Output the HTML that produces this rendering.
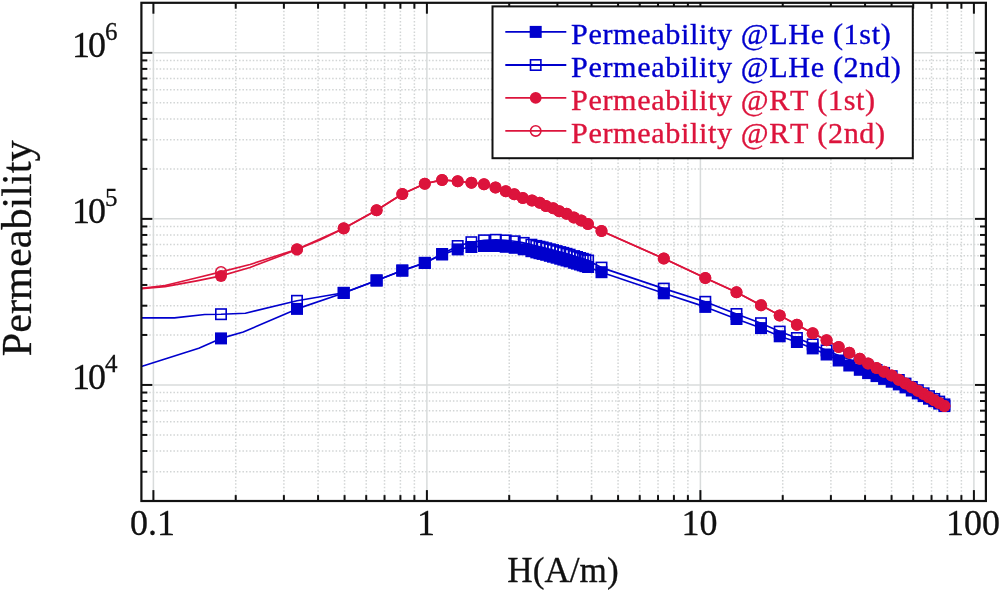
<!DOCTYPE html>
<html lang="en"><head><meta charset="utf-8"><title>Permeability vs H</title>
<style>
html,body{margin:0;padding:0;background:#fff;}
body{width:1000px;height:592px;overflow:hidden;font-family:'Liberation Serif', 'Times New Roman', Times, serif;}
svg{display:block;}
</style></head><body>
<svg width="1000" height="592" viewBox="0 0 1000 592">
<rect x="0" y="0" width="1000" height="592" fill="#ffffff"/>
<g id="grid" fill="none">
<g stroke="#d2d5d5" stroke-width="1.5" stroke-dasharray="1.5 1.95">
<line x1="235.73" y1="3.80" x2="235.73" y2="500.00"/>
<line x1="283.89" y1="3.80" x2="283.89" y2="500.00"/>
<line x1="318.06" y1="3.80" x2="318.06" y2="500.00"/>
<line x1="344.57" y1="3.80" x2="344.57" y2="500.00"/>
<line x1="366.22" y1="3.80" x2="366.22" y2="500.00"/>
<line x1="384.53" y1="3.80" x2="384.53" y2="500.00"/>
<line x1="400.40" y1="3.80" x2="400.40" y2="500.00"/>
<line x1="414.39" y1="3.80" x2="414.39" y2="500.00"/>
<line x1="509.23" y1="3.80" x2="509.23" y2="500.00"/>
<line x1="557.39" y1="3.80" x2="557.39" y2="500.00"/>
<line x1="591.56" y1="3.80" x2="591.56" y2="500.00"/>
<line x1="618.07" y1="3.80" x2="618.07" y2="500.00"/>
<line x1="639.72" y1="3.80" x2="639.72" y2="500.00"/>
<line x1="658.03" y1="3.80" x2="658.03" y2="500.00"/>
<line x1="673.90" y1="3.80" x2="673.90" y2="500.00"/>
<line x1="687.89" y1="3.80" x2="687.89" y2="500.00"/>
<line x1="782.73" y1="3.80" x2="782.73" y2="500.00"/>
<line x1="830.89" y1="3.80" x2="830.89" y2="500.00"/>
<line x1="865.06" y1="3.80" x2="865.06" y2="500.00"/>
<line x1="891.57" y1="3.80" x2="891.57" y2="500.00"/>
<line x1="913.22" y1="3.80" x2="913.22" y2="500.00"/>
<line x1="931.53" y1="3.80" x2="931.53" y2="500.00"/>
<line x1="947.40" y1="3.80" x2="947.40" y2="500.00"/>
<line x1="961.39" y1="3.80" x2="961.39" y2="500.00"/>
<line x1="142.40" y1="471.77" x2="984.90" y2="471.77"/>
<line x1="142.40" y1="451.03" x2="984.90" y2="451.03"/>
<line x1="142.40" y1="434.93" x2="984.90" y2="434.93"/>
<line x1="142.40" y1="421.78" x2="984.90" y2="421.78"/>
<line x1="142.40" y1="410.66" x2="984.90" y2="410.66"/>
<line x1="142.40" y1="401.03" x2="984.90" y2="401.03"/>
<line x1="142.40" y1="392.54" x2="984.90" y2="392.54"/>
<line x1="142.40" y1="334.95" x2="984.90" y2="334.95"/>
<line x1="142.40" y1="305.70" x2="984.90" y2="305.70"/>
<line x1="142.40" y1="284.96" x2="984.90" y2="284.96"/>
<line x1="142.40" y1="268.86" x2="984.90" y2="268.86"/>
<line x1="142.40" y1="255.71" x2="984.90" y2="255.71"/>
<line x1="142.40" y1="244.59" x2="984.90" y2="244.59"/>
<line x1="142.40" y1="234.96" x2="984.90" y2="234.96"/>
<line x1="142.40" y1="226.47" x2="984.90" y2="226.47"/>
<line x1="142.40" y1="168.88" x2="984.90" y2="168.88"/>
<line x1="142.40" y1="139.63" x2="984.90" y2="139.63"/>
<line x1="142.40" y1="118.89" x2="984.90" y2="118.89"/>
<line x1="142.40" y1="102.79" x2="984.90" y2="102.79"/>
<line x1="142.40" y1="89.64" x2="984.90" y2="89.64"/>
<line x1="142.40" y1="78.52" x2="984.90" y2="78.52"/>
<line x1="142.40" y1="68.89" x2="984.90" y2="68.89"/>
<line x1="142.40" y1="60.40" x2="984.90" y2="60.40"/>
</g>
<g stroke="#d8dbdb" stroke-width="1.5">
<line x1="153.40" y1="3.80" x2="153.40" y2="500.00"/>
<line x1="426.90" y1="3.80" x2="426.90" y2="500.00"/>
<line x1="700.40" y1="3.80" x2="700.40" y2="500.00"/>
<line x1="973.90" y1="3.80" x2="973.90" y2="500.00"/>
<line x1="142.40" y1="384.94" x2="984.90" y2="384.94"/>
<line x1="142.40" y1="218.87" x2="984.90" y2="218.87"/>
<line x1="142.40" y1="52.80" x2="984.90" y2="52.80"/>
</g></g>
<clipPath id="plotclip"><rect x="141.4" y="2.8" width="844.5" height="498.2"/></clipPath>
<g clip-path="url(#plotclip)">
<g stroke="#0000cd" stroke-width="1.65" fill="none" stroke-linejoin="round">
<path d="M141.4 366.5 L198.8 348.3 L221.0 338.4 L243.3 332.0 L297.0 308.9 L343.7 293.0 L376.6 280.5 L402.3 270.6 L424.8 263.0 L442.1 254.5 L457.7 249.4 L471.4 247.0 L484.0 246.0 L496.2 246.0 L506.0 246.8 L514.5 247.8 L522.5 249.0 L545.0 254.5 L566.0 260.3 L588.1 267.0 L601.4 272.2 L663.8 293.3 L705.3 306.9 L736.5 319.0 L761.0 328.1 L779.7 336.3 L796.9 342.0 L812.7 348.4 L826.7 354.5 L838.7 360.5 L849.4 365.5 L862.8 371.1 L900.0 384.8 L944.4 406.1"/>
</g>
<g fill="#0000cd" stroke="none">
<rect x="215.0" y="332.4" width="12.0" height="12.0"/>
<rect x="291.0" y="302.9" width="12.0" height="12.0"/>
<rect x="337.7" y="287.0" width="12.0" height="12.0"/>
<rect x="370.6" y="274.5" width="12.0" height="12.0"/>
<rect x="396.3" y="264.6" width="12.0" height="12.0"/>
<rect x="418.8" y="257.0" width="12.0" height="12.0"/>
<rect x="436.1" y="248.5" width="12.0" height="12.0"/>
<rect x="451.7" y="243.4" width="12.0" height="12.0"/>
<rect x="465.4" y="241.0" width="12.0" height="12.0"/>
<rect x="478.0" y="240.0" width="12.0" height="12.0"/>
<rect x="489.8" y="240.0" width="12.0" height="12.0"/>
<rect x="499.7" y="240.8" width="12.0" height="12.0"/>
<rect x="508.7" y="241.8" width="12.0" height="12.0"/>
<rect x="517.7" y="243.3" width="12.0" height="12.0"/>
<rect x="525.4" y="245.2" width="12.0" height="12.0"/>
<rect x="530.3" y="246.4" width="12.0" height="12.0"/>
<rect x="533.5" y="247.2" width="12.0" height="12.0"/>
<rect x="536.6" y="247.9" width="12.0" height="12.0"/>
<rect x="540.2" y="248.8" width="12.0" height="12.0"/>
<rect x="543.8" y="249.8" width="12.0" height="12.0"/>
<rect x="547.0" y="250.7" width="12.0" height="12.0"/>
<rect x="550.6" y="251.7" width="12.0" height="12.0"/>
<rect x="554.2" y="252.7" width="12.0" height="12.0"/>
<rect x="557.3" y="253.6" width="12.0" height="12.0"/>
<rect x="560.5" y="254.5" width="12.0" height="12.0"/>
<rect x="563.6" y="255.4" width="12.0" height="12.0"/>
<rect x="568.1" y="256.8" width="12.0" height="12.0"/>
<rect x="571.0" y="257.6" width="12.0" height="12.0"/>
<rect x="574.0" y="258.5" width="12.0" height="12.0"/>
<rect x="576.8" y="259.4" width="12.0" height="12.0"/>
<rect x="579.4" y="260.2" width="12.0" height="12.0"/>
<rect x="582.1" y="261.0" width="12.0" height="12.0"/>
<rect x="595.5" y="266.2" width="12.0" height="12.0"/>
<rect x="657.8" y="287.3" width="12.0" height="12.0"/>
<rect x="699.3" y="300.9" width="12.0" height="12.0"/>
<rect x="730.5" y="313.0" width="12.0" height="12.0"/>
<rect x="755.0" y="322.1" width="12.0" height="12.0"/>
<rect x="773.7" y="330.3" width="12.0" height="12.0"/>
<rect x="790.9" y="336.0" width="12.0" height="12.0"/>
<rect x="806.7" y="342.4" width="12.0" height="12.0"/>
<rect x="820.6" y="348.5" width="12.0" height="12.0"/>
<rect x="832.7" y="354.5" width="12.0" height="12.0"/>
<rect x="843.3" y="359.5" width="12.0" height="12.0"/>
<rect x="853.8" y="363.8" width="12.0" height="12.0"/>
<rect x="862.1" y="367.1" width="12.0" height="12.0"/>
<rect x="870.5" y="370.1" width="12.0" height="12.0"/>
<rect x="878.1" y="372.9" width="12.0" height="12.0"/>
<rect x="885.7" y="375.7" width="12.0" height="12.0"/>
<rect x="892.8" y="378.4" width="12.0" height="12.0"/>
<rect x="899.5" y="381.4" width="12.0" height="12.0"/>
<rect x="905.8" y="384.5" width="12.0" height="12.0"/>
<rect x="911.8" y="387.4" width="12.0" height="12.0"/>
<rect x="917.6" y="390.1" width="12.0" height="12.0"/>
<rect x="923.0" y="392.7" width="12.0" height="12.0"/>
<rect x="928.2" y="395.2" width="12.0" height="12.0"/>
<rect x="933.2" y="397.6" width="12.0" height="12.0"/>
<rect x="938.4" y="400.1" width="12.0" height="12.0"/>
</g>
<g stroke="#0000cd" stroke-width="1.65" fill="none" stroke-linejoin="round">
<path d="M141.4 317.9 L174.4 317.9 L204.8 314.5 L221.0 314.2 L245.4 313.2 L297.0 300.8 L343.7 292.8 L376.6 280.4 L402.3 270.5 L424.8 262.8 L442.1 254.0 L457.7 246.0 L471.4 242.2 L484.0 240.3 L496.2 239.8 L506.0 240.4 L514.5 241.3 L522.5 242.6 L545.0 248.0 L566.0 253.6 L588.1 260.5 L601.4 267.6 L663.8 288.6 L705.3 301.8 L736.5 314.0 L761.0 323.2 L779.7 331.6 L796.9 338.0 L812.7 344.4 L826.7 350.4 L838.7 355.6 L849.4 359.6 L860.0 363.8 L888.7 374.6 L944.4 404.4"/>
</g>
<g fill="none" stroke="#0000cd" stroke-width="1.6">
<rect x="215.8" y="309.0" width="10.4" height="10.4"/>
<rect x="291.8" y="295.6" width="10.4" height="10.4"/>
<rect x="338.5" y="287.6" width="10.4" height="10.4"/>
<rect x="371.4" y="275.2" width="10.4" height="10.4"/>
<rect x="397.1" y="265.3" width="10.4" height="10.4"/>
<rect x="419.6" y="257.6" width="10.4" height="10.4"/>
<rect x="436.9" y="248.8" width="10.4" height="10.4"/>
<rect x="452.5" y="240.8" width="10.4" height="10.4"/>
<rect x="466.2" y="237.0" width="10.4" height="10.4"/>
<rect x="478.8" y="235.1" width="10.4" height="10.4"/>
<rect x="490.6" y="234.6" width="10.4" height="10.4"/>
<rect x="500.5" y="235.2" width="10.4" height="10.4"/>
<rect x="509.5" y="236.1" width="10.4" height="10.4"/>
<rect x="518.5" y="237.7" width="10.4" height="10.4"/>
<rect x="526.2" y="239.5" width="10.4" height="10.4"/>
<rect x="531.1" y="240.7" width="10.4" height="10.4"/>
<rect x="534.3" y="241.5" width="10.4" height="10.4"/>
<rect x="537.4" y="242.2" width="10.4" height="10.4"/>
<rect x="541.0" y="243.1" width="10.4" height="10.4"/>
<rect x="544.6" y="244.1" width="10.4" height="10.4"/>
<rect x="547.8" y="244.9" width="10.4" height="10.4"/>
<rect x="551.4" y="245.9" width="10.4" height="10.4"/>
<rect x="555.0" y="246.9" width="10.4" height="10.4"/>
<rect x="558.1" y="247.7" width="10.4" height="10.4"/>
<rect x="561.3" y="248.6" width="10.4" height="10.4"/>
<rect x="564.4" y="249.5" width="10.4" height="10.4"/>
<rect x="568.9" y="250.9" width="10.4" height="10.4"/>
<rect x="571.8" y="251.8" width="10.4" height="10.4"/>
<rect x="574.8" y="252.8" width="10.4" height="10.4"/>
<rect x="577.6" y="253.6" width="10.4" height="10.4"/>
<rect x="580.2" y="254.5" width="10.4" height="10.4"/>
<rect x="582.9" y="255.3" width="10.4" height="10.4"/>
<rect x="596.3" y="262.4" width="10.4" height="10.4"/>
<rect x="658.6" y="283.4" width="10.4" height="10.4"/>
<rect x="700.1" y="296.6" width="10.4" height="10.4"/>
<rect x="731.3" y="308.8" width="10.4" height="10.4"/>
<rect x="755.8" y="318.0" width="10.4" height="10.4"/>
<rect x="774.5" y="326.4" width="10.4" height="10.4"/>
<rect x="791.7" y="332.8" width="10.4" height="10.4"/>
<rect x="807.5" y="339.2" width="10.4" height="10.4"/>
<rect x="821.4" y="345.2" width="10.4" height="10.4"/>
<rect x="833.5" y="350.4" width="10.4" height="10.4"/>
<rect x="844.1" y="354.4" width="10.4" height="10.4"/>
<rect x="854.6" y="358.5" width="10.4" height="10.4"/>
<rect x="862.9" y="361.6" width="10.4" height="10.4"/>
<rect x="871.3" y="364.8" width="10.4" height="10.4"/>
<rect x="878.9" y="367.7" width="10.4" height="10.4"/>
<rect x="886.5" y="371.0" width="10.4" height="10.4"/>
<rect x="893.6" y="374.8" width="10.4" height="10.4"/>
<rect x="900.3" y="378.4" width="10.4" height="10.4"/>
<rect x="906.6" y="381.8" width="10.4" height="10.4"/>
<rect x="912.6" y="385.0" width="10.4" height="10.4"/>
<rect x="918.4" y="388.1" width="10.4" height="10.4"/>
<rect x="923.8" y="391.0" width="10.4" height="10.4"/>
<rect x="929.0" y="393.8" width="10.4" height="10.4"/>
<rect x="934.0" y="396.4" width="10.4" height="10.4"/>
<rect x="939.2" y="399.2" width="10.4" height="10.4"/>
</g>
<g stroke="#dc143c" stroke-width="1.65" fill="none" stroke-linejoin="round">
<path d="M141.4 288.6 L165.0 286.6 L198.0 280.6 L221.0 275.9 L250.0 267.5 L297.0 249.6 L320.0 240.0 L343.8 228.5 L376.6 210.3 L402.3 194.0 L424.8 183.7 L442.1 179.9 L457.7 181.3 L471.4 182.7 L484.0 184.3 L495.5 187.6 L505.8 191.3 L514.3 194.3 L522.8 198.0 L532.0 200.4 L539.8 202.8 L545.9 205.9 L553.2 208.3 L559.3 211.3 L566.6 213.8 L573.9 217.4 L581.2 220.5 L587.9 224.1 L601.6 231.0 L663.8 258.6 L705.3 277.9 L736.5 292.3 L761.0 305.2 L779.7 315.4 L796.9 324.7 L812.7 333.2 L826.5 340.2 L838.7 347.0 L849.3 352.7 L859.8 358.8 L868.1 363.5 L876.5 368.0 L884.1 371.8 L891.7 375.6 L944.4 406.1"/>
</g>
<g fill="#dc143c" stroke="none">
<circle cx="221.0" cy="275.9" r="6.0"/>
<circle cx="297.0" cy="249.6" r="6.0"/>
<circle cx="343.7" cy="228.5" r="6.0"/>
<circle cx="376.6" cy="210.3" r="6.0"/>
<circle cx="402.3" cy="194.0" r="6.0"/>
<circle cx="424.8" cy="183.7" r="6.0"/>
<circle cx="442.1" cy="179.9" r="6.0"/>
<circle cx="457.7" cy="181.3" r="6.0"/>
<circle cx="471.4" cy="182.7" r="6.0"/>
<circle cx="484.0" cy="184.3" r="6.0"/>
<circle cx="495.5" cy="187.6" r="6.0"/>
<circle cx="505.8" cy="191.3" r="6.0"/>
<circle cx="514.3" cy="194.3" r="6.0"/>
<circle cx="522.8" cy="198.0" r="6.0"/>
<circle cx="532.0" cy="200.4" r="6.0"/>
<circle cx="539.8" cy="202.8" r="6.0"/>
<circle cx="545.9" cy="205.9" r="6.0"/>
<circle cx="553.2" cy="208.3" r="6.0"/>
<circle cx="559.3" cy="211.3" r="6.0"/>
<circle cx="566.6" cy="213.8" r="6.0"/>
<circle cx="573.9" cy="217.4" r="6.0"/>
<circle cx="581.2" cy="220.5" r="6.0"/>
<circle cx="587.9" cy="224.1" r="6.0"/>
<circle cx="601.5" cy="230.9" r="6.0"/>
<circle cx="663.8" cy="258.6" r="6.0"/>
<circle cx="705.3" cy="277.9" r="6.0"/>
<circle cx="736.5" cy="292.3" r="6.0"/>
<circle cx="761.0" cy="305.2" r="6.0"/>
<circle cx="779.7" cy="315.4" r="6.0"/>
<circle cx="796.9" cy="324.7" r="6.0"/>
<circle cx="812.7" cy="333.2" r="6.0"/>
<circle cx="826.6" cy="340.3" r="6.0"/>
<circle cx="838.7" cy="347.0" r="6.0"/>
<circle cx="849.3" cy="352.7" r="6.0"/>
<circle cx="859.8" cy="358.8" r="6.0"/>
<circle cx="868.1" cy="363.5" r="6.0"/>
<circle cx="876.5" cy="368.0" r="6.0"/>
<circle cx="884.1" cy="371.8" r="6.0"/>
<circle cx="891.7" cy="375.6" r="6.0"/>
<circle cx="898.8" cy="379.7" r="6.0"/>
<circle cx="905.5" cy="383.6" r="6.0"/>
<circle cx="911.8" cy="387.2" r="6.0"/>
<circle cx="917.8" cy="390.7" r="6.0"/>
<circle cx="923.6" cy="394.0" r="6.0"/>
<circle cx="929.0" cy="397.2" r="6.0"/>
<circle cx="934.2" cy="400.2" r="6.0"/>
<circle cx="939.2" cy="403.1" r="6.0"/>
<circle cx="944.4" cy="406.1" r="6.0"/>
</g>
<g stroke="#dc143c" stroke-width="1.65" fill="none" stroke-linejoin="round">
<path d="M141.4 288.4 L165.0 285.5 L198.0 277.5 L221.0 271.9 L250.0 264.5 L297.0 249.2 L320.0 239.0 L343.8 228.3 L376.6 210.3 L402.3 194.0 L424.8 183.7 L442.1 179.9 L457.7 181.3 L471.4 182.7 L484.0 184.3 L495.5 187.6 L505.8 191.3 L514.3 194.3 L522.8 198.0 L532.0 200.4 L539.8 202.8 L545.9 205.9 L553.2 208.3 L559.3 211.3 L566.6 213.8 L573.9 217.4 L581.2 220.5 L587.9 224.1 L601.6 231.0 L663.8 258.6 L705.3 277.9 L736.5 292.3 L761.0 305.2 L779.7 315.4 L796.9 324.7 L812.7 333.2 L826.5 340.2 L838.7 347.0 L849.3 352.7 L859.8 358.8 L868.1 363.5 L876.5 368.0 L884.1 371.8 L891.7 375.6 L944.4 406.1"/>
</g>
<g fill="none" stroke="#dc143c" stroke-width="1.6">
<circle cx="221.0" cy="271.9" r="5.2"/>
<circle cx="297.0" cy="249.2" r="5.2"/>
<circle cx="343.7" cy="228.3" r="5.2"/>
<circle cx="376.6" cy="210.3" r="5.2"/>
<circle cx="402.3" cy="194.0" r="5.2"/>
<circle cx="424.8" cy="183.7" r="5.2"/>
<circle cx="442.1" cy="179.9" r="5.2"/>
<circle cx="457.7" cy="181.3" r="5.2"/>
<circle cx="471.4" cy="182.7" r="5.2"/>
<circle cx="484.0" cy="184.3" r="5.2"/>
<circle cx="495.5" cy="187.6" r="5.2"/>
<circle cx="505.8" cy="191.3" r="5.2"/>
<circle cx="514.3" cy="194.3" r="5.2"/>
<circle cx="522.8" cy="198.0" r="5.2"/>
<circle cx="532.0" cy="200.4" r="5.2"/>
<circle cx="539.8" cy="202.8" r="5.2"/>
<circle cx="545.9" cy="205.9" r="5.2"/>
<circle cx="553.2" cy="208.3" r="5.2"/>
<circle cx="559.3" cy="211.3" r="5.2"/>
<circle cx="566.6" cy="213.8" r="5.2"/>
<circle cx="573.9" cy="217.4" r="5.2"/>
<circle cx="581.2" cy="220.5" r="5.2"/>
<circle cx="587.9" cy="224.1" r="5.2"/>
<circle cx="601.5" cy="230.9" r="5.2"/>
<circle cx="663.8" cy="258.6" r="5.2"/>
<circle cx="705.3" cy="277.9" r="5.2"/>
<circle cx="736.5" cy="292.3" r="5.2"/>
<circle cx="761.0" cy="305.2" r="5.2"/>
<circle cx="779.7" cy="315.4" r="5.2"/>
<circle cx="796.9" cy="324.7" r="5.2"/>
<circle cx="812.7" cy="333.2" r="5.2"/>
<circle cx="826.6" cy="340.3" r="5.2"/>
<circle cx="838.7" cy="347.0" r="5.2"/>
<circle cx="849.3" cy="352.7" r="5.2"/>
<circle cx="859.8" cy="358.8" r="5.2"/>
<circle cx="868.1" cy="363.5" r="5.2"/>
<circle cx="876.5" cy="368.0" r="5.2"/>
<circle cx="884.1" cy="371.8" r="5.2"/>
<circle cx="891.7" cy="375.6" r="5.2"/>
<circle cx="898.8" cy="379.7" r="5.2"/>
<circle cx="905.5" cy="383.6" r="5.2"/>
<circle cx="911.8" cy="387.2" r="5.2"/>
<circle cx="917.8" cy="390.7" r="5.2"/>
<circle cx="923.6" cy="394.0" r="5.2"/>
<circle cx="929.0" cy="397.2" r="5.2"/>
<circle cx="934.2" cy="400.2" r="5.2"/>
<circle cx="939.2" cy="403.1" r="5.2"/>
<circle cx="944.4" cy="406.1" r="5.2"/>
</g>
</g>
<g stroke="#111" stroke-width="2" fill="none" stroke-linecap="butt">
<line x1="153.40" y1="501.00" x2="153.40" y2="490.10"/>
<line x1="153.40" y1="2.80" x2="153.40" y2="13.70"/>
<line x1="426.90" y1="501.00" x2="426.90" y2="490.10"/>
<line x1="426.90" y1="2.80" x2="426.90" y2="13.70"/>
<line x1="700.40" y1="501.00" x2="700.40" y2="490.10"/>
<line x1="700.40" y1="2.80" x2="700.40" y2="13.70"/>
<line x1="973.90" y1="501.00" x2="973.90" y2="490.10"/>
<line x1="973.90" y1="2.80" x2="973.90" y2="13.70"/>
<line x1="235.73" y1="501.00" x2="235.73" y2="495.10"/>
<line x1="235.73" y1="2.80" x2="235.73" y2="8.70"/>
<line x1="283.89" y1="501.00" x2="283.89" y2="495.10"/>
<line x1="283.89" y1="2.80" x2="283.89" y2="8.70"/>
<line x1="318.06" y1="501.00" x2="318.06" y2="495.10"/>
<line x1="318.06" y1="2.80" x2="318.06" y2="8.70"/>
<line x1="344.57" y1="501.00" x2="344.57" y2="495.10"/>
<line x1="344.57" y1="2.80" x2="344.57" y2="8.70"/>
<line x1="366.22" y1="501.00" x2="366.22" y2="495.10"/>
<line x1="366.22" y1="2.80" x2="366.22" y2="8.70"/>
<line x1="384.53" y1="501.00" x2="384.53" y2="495.10"/>
<line x1="384.53" y1="2.80" x2="384.53" y2="8.70"/>
<line x1="400.40" y1="501.00" x2="400.40" y2="495.10"/>
<line x1="400.40" y1="2.80" x2="400.40" y2="8.70"/>
<line x1="414.39" y1="501.00" x2="414.39" y2="495.10"/>
<line x1="414.39" y1="2.80" x2="414.39" y2="8.70"/>
<line x1="509.23" y1="501.00" x2="509.23" y2="495.10"/>
<line x1="509.23" y1="2.80" x2="509.23" y2="8.70"/>
<line x1="557.39" y1="501.00" x2="557.39" y2="495.10"/>
<line x1="557.39" y1="2.80" x2="557.39" y2="8.70"/>
<line x1="591.56" y1="501.00" x2="591.56" y2="495.10"/>
<line x1="591.56" y1="2.80" x2="591.56" y2="8.70"/>
<line x1="618.07" y1="501.00" x2="618.07" y2="495.10"/>
<line x1="618.07" y1="2.80" x2="618.07" y2="8.70"/>
<line x1="639.72" y1="501.00" x2="639.72" y2="495.10"/>
<line x1="639.72" y1="2.80" x2="639.72" y2="8.70"/>
<line x1="658.03" y1="501.00" x2="658.03" y2="495.10"/>
<line x1="658.03" y1="2.80" x2="658.03" y2="8.70"/>
<line x1="673.90" y1="501.00" x2="673.90" y2="495.10"/>
<line x1="673.90" y1="2.80" x2="673.90" y2="8.70"/>
<line x1="687.89" y1="501.00" x2="687.89" y2="495.10"/>
<line x1="687.89" y1="2.80" x2="687.89" y2="8.70"/>
<line x1="782.73" y1="501.00" x2="782.73" y2="495.10"/>
<line x1="782.73" y1="2.80" x2="782.73" y2="8.70"/>
<line x1="830.89" y1="501.00" x2="830.89" y2="495.10"/>
<line x1="830.89" y1="2.80" x2="830.89" y2="8.70"/>
<line x1="865.06" y1="501.00" x2="865.06" y2="495.10"/>
<line x1="865.06" y1="2.80" x2="865.06" y2="8.70"/>
<line x1="891.57" y1="501.00" x2="891.57" y2="495.10"/>
<line x1="891.57" y1="2.80" x2="891.57" y2="8.70"/>
<line x1="913.22" y1="501.00" x2="913.22" y2="495.10"/>
<line x1="913.22" y1="2.80" x2="913.22" y2="8.70"/>
<line x1="931.53" y1="501.00" x2="931.53" y2="495.10"/>
<line x1="931.53" y1="2.80" x2="931.53" y2="8.70"/>
<line x1="947.40" y1="501.00" x2="947.40" y2="495.10"/>
<line x1="947.40" y1="2.80" x2="947.40" y2="8.70"/>
<line x1="961.39" y1="501.00" x2="961.39" y2="495.10"/>
<line x1="961.39" y1="2.80" x2="961.39" y2="8.70"/>
<line x1="141.40" y1="384.94" x2="152.30" y2="384.94"/>
<line x1="985.90" y1="384.94" x2="975.00" y2="384.94"/>
<line x1="141.40" y1="218.87" x2="152.30" y2="218.87"/>
<line x1="985.90" y1="218.87" x2="975.00" y2="218.87"/>
<line x1="141.40" y1="52.80" x2="152.30" y2="52.80"/>
<line x1="985.90" y1="52.80" x2="975.00" y2="52.80"/>
<line x1="141.40" y1="471.77" x2="147.30" y2="471.77"/>
<line x1="985.90" y1="471.77" x2="980.00" y2="471.77"/>
<line x1="141.40" y1="451.03" x2="147.30" y2="451.03"/>
<line x1="985.90" y1="451.03" x2="980.00" y2="451.03"/>
<line x1="141.40" y1="434.93" x2="147.30" y2="434.93"/>
<line x1="985.90" y1="434.93" x2="980.00" y2="434.93"/>
<line x1="141.40" y1="421.78" x2="147.30" y2="421.78"/>
<line x1="985.90" y1="421.78" x2="980.00" y2="421.78"/>
<line x1="141.40" y1="410.66" x2="147.30" y2="410.66"/>
<line x1="985.90" y1="410.66" x2="980.00" y2="410.66"/>
<line x1="141.40" y1="401.03" x2="147.30" y2="401.03"/>
<line x1="985.90" y1="401.03" x2="980.00" y2="401.03"/>
<line x1="141.40" y1="392.54" x2="147.30" y2="392.54"/>
<line x1="985.90" y1="392.54" x2="980.00" y2="392.54"/>
<line x1="141.40" y1="334.95" x2="147.30" y2="334.95"/>
<line x1="985.90" y1="334.95" x2="980.00" y2="334.95"/>
<line x1="141.40" y1="305.70" x2="147.30" y2="305.70"/>
<line x1="985.90" y1="305.70" x2="980.00" y2="305.70"/>
<line x1="141.40" y1="284.96" x2="147.30" y2="284.96"/>
<line x1="985.90" y1="284.96" x2="980.00" y2="284.96"/>
<line x1="141.40" y1="268.86" x2="147.30" y2="268.86"/>
<line x1="985.90" y1="268.86" x2="980.00" y2="268.86"/>
<line x1="141.40" y1="255.71" x2="147.30" y2="255.71"/>
<line x1="985.90" y1="255.71" x2="980.00" y2="255.71"/>
<line x1="141.40" y1="244.59" x2="147.30" y2="244.59"/>
<line x1="985.90" y1="244.59" x2="980.00" y2="244.59"/>
<line x1="141.40" y1="234.96" x2="147.30" y2="234.96"/>
<line x1="985.90" y1="234.96" x2="980.00" y2="234.96"/>
<line x1="141.40" y1="226.47" x2="147.30" y2="226.47"/>
<line x1="985.90" y1="226.47" x2="980.00" y2="226.47"/>
<line x1="141.40" y1="168.88" x2="147.30" y2="168.88"/>
<line x1="985.90" y1="168.88" x2="980.00" y2="168.88"/>
<line x1="141.40" y1="139.63" x2="147.30" y2="139.63"/>
<line x1="985.90" y1="139.63" x2="980.00" y2="139.63"/>
<line x1="141.40" y1="118.89" x2="147.30" y2="118.89"/>
<line x1="985.90" y1="118.89" x2="980.00" y2="118.89"/>
<line x1="141.40" y1="102.79" x2="147.30" y2="102.79"/>
<line x1="985.90" y1="102.79" x2="980.00" y2="102.79"/>
<line x1="141.40" y1="89.64" x2="147.30" y2="89.64"/>
<line x1="985.90" y1="89.64" x2="980.00" y2="89.64"/>
<line x1="141.40" y1="78.52" x2="147.30" y2="78.52"/>
<line x1="985.90" y1="78.52" x2="980.00" y2="78.52"/>
<line x1="141.40" y1="68.89" x2="147.30" y2="68.89"/>
<line x1="985.90" y1="68.89" x2="980.00" y2="68.89"/>
<line x1="141.40" y1="60.40" x2="147.30" y2="60.40"/>
<line x1="985.90" y1="60.40" x2="980.00" y2="60.40"/>
</g>
<rect x="141.4" y="2.8" width="844.5" height="498.2" fill="none" stroke="#111" stroke-width="2.2"/>
<rect x="492.5" y="6.4" width="420.3" height="151.8" fill="#fff" stroke="#111" stroke-width="2"/>
<line x1="505.3" y1="31.9" x2="566.3" y2="31.9" stroke="#0000cd" stroke-width="1.9"/>
<rect x="529.7" y="25.9" width="12" height="12" fill="#0000cd"/>
<text x="571" y="43.6" font-family="'Liberation Serif', 'Times New Roman', Times, serif" font-size="30.2" fill="#0000cd" stroke="#0000cd" stroke-width="0.35" style="font-kerning:none" letter-spacing="0.62">Permeability @LHe (1st)</text>
<line x1="505.3" y1="65.0" x2="566.3" y2="65.0" stroke="#0000cd" stroke-width="1.9"/>
<rect x="530.5" y="59.8" width="10.4" height="10.4" fill="none" stroke="#0000cd" stroke-width="1.6"/>
<text x="571" y="76.7" font-family="'Liberation Serif', 'Times New Roman', Times, serif" font-size="30.2" fill="#0000cd" stroke="#0000cd" stroke-width="0.35" style="font-kerning:none" letter-spacing="0.62">Permeability @LHe (2nd)</text>
<line x1="505.3" y1="97.9" x2="566.3" y2="97.9" stroke="#dc143c" stroke-width="1.9"/>
<circle cx="535.7" cy="97.9" r="5.9" fill="#dc143c"/>
<text x="571" y="109.6" font-family="'Liberation Serif', 'Times New Roman', Times, serif" font-size="30.2" fill="#dc143c" stroke="#dc143c" stroke-width="0.35" style="font-kerning:none" letter-spacing="0.62">Permeability @RT (1st)</text>
<line x1="505.3" y1="130.9" x2="566.3" y2="130.9" stroke="#dc143c" stroke-width="1.9"/>
<circle cx="535.7" cy="130.9" r="5.2" fill="none" stroke="#dc143c" stroke-width="1.6"/>
<text x="571" y="142.6" font-family="'Liberation Serif', 'Times New Roman', Times, serif" font-size="30.2" fill="#dc143c" stroke="#dc143c" stroke-width="0.35" style="font-kerning:none" letter-spacing="0.62">Permeability @RT (2nd)</text>
<g font-family="'Liberation Serif', 'Times New Roman', Times, serif" font-size="36" fill="#111" stroke="#111" stroke-width="0.3" style="font-kerning:none">
<text x="152.6" y="535.0" text-anchor="middle">0.1</text>
<text x="426.1" y="535.0" text-anchor="middle">1</text>
<text x="699.6" y="535.0" text-anchor="middle">10</text>
<text x="973.1" y="535.0" text-anchor="middle">100</text>
<text x="71.9" y="57.1"><tspan letter-spacing="-2">1</tspan><tspan letter-spacing="-0.8">0</tspan><tspan font-size="25" dy="-17.2">6</tspan></text>
<text x="71.9" y="223.2"><tspan letter-spacing="-2">1</tspan><tspan letter-spacing="-0.8">0</tspan><tspan font-size="25" dy="-17.2">5</tspan></text>
<text x="71.9" y="389.2"><tspan letter-spacing="-2">1</tspan><tspan letter-spacing="-0.8">0</tspan><tspan font-size="25" dy="-17.2">4</tspan></text>
<text x="563" y="581.8" font-size="35.2" text-anchor="middle">H(A/m)</text>
<text transform="translate(31.4,248.3) rotate(-90)" font-size="42.3" text-anchor="middle">Permeability</text>
</g>
</svg>
</body></html>
